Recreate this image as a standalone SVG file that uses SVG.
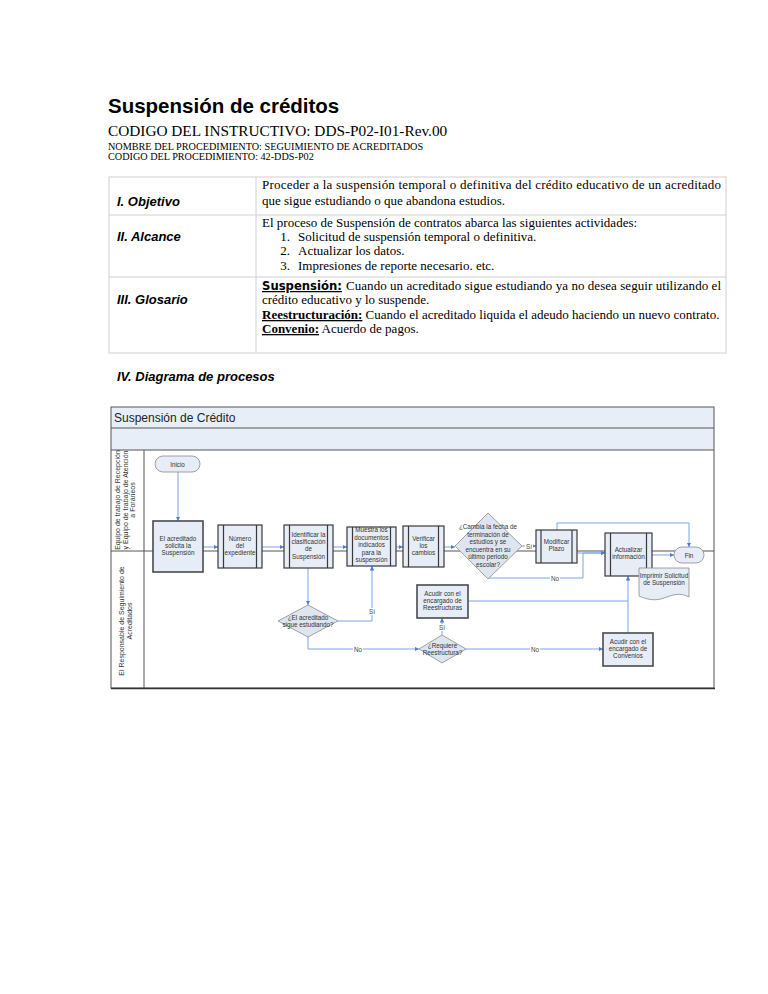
<svg xmlns="http://www.w3.org/2000/svg" width="768" height="994" viewBox="0 0 768 994">
<style>
.h1{font-family:"Liberation Sans",Arial,sans-serif;font-weight:bold;font-size:20.5px;fill:#000}
.tm{font-family:"Liberation Serif","Times New Roman",serif;fill:#000}
.lab{font-family:"Liberation Sans",Arial,sans-serif;font-weight:bold;font-style:italic;font-size:13px;fill:#000}
.cell{fill:none;stroke:#d0d0d0;stroke-width:1}
.box{fill:#e7edf6;stroke:#4a4a4a;stroke-width:1.6}
.pp{fill:#e7edf6;stroke:#3a3a3a;stroke-width:1.2}
.ppl{stroke:#3a3a3a;stroke-width:1.2}
.term{fill:#e7edf6;stroke:#8a8a8a;stroke-width:0.8}
.dia{fill:#dfe5ee;stroke:#8a8a8a;stroke-width:0.8}
.conn{fill:none;stroke:#7aa5e3;stroke-width:1}
.arr{marker-end:url(#ah)}
.lane{fill:none;stroke:#555;stroke-width:1}
.nt{font-family:"Liberation Sans",Arial,sans-serif;font-size:6.3px;fill:#333;text-anchor:middle}
.cl{font-family:"Liberation Sans",Arial,sans-serif;font-size:6.3px;fill:#444;text-anchor:middle}
.ln{font-family:"Liberation Sans",Arial,sans-serif;font-size:7px;fill:#333;text-anchor:middle}
</style>
<defs>
<marker id="ah" viewBox="0 0 6 6" markerWidth="4.5" markerHeight="4.5" refX="6" refY="3" orient="auto" markerUnits="userSpaceOnUse">
<path d="M0,0 L6,3 L0,6 z" fill="#4a7fd0"/>
</marker>
</defs>
<rect width="768" height="994" fill="#fff"/>

<g id="header">
<text class="h1" x="108" y="113">Suspensión de créditos</text>
<text class="tm" x="108" y="136" font-size="15.3">CODIGO DEL INSTRUCTIVO: DDS-P02-I01-Rev.00</text>
<text class="tm" x="108" y="150" font-size="10.2">NOMBRE DEL PROCEDIMIENTO: SEGUIMIENTO DE ACREDITADOS</text>
<text class="tm" x="108" y="160" font-size="10.2">CODIGO DEL PROCEDIMIENTO: 42-DDS-P02</text>
</g>

<g id="table">
<rect class="cell" x="109" y="177" width="617" height="176"/>
<line class="cell" x1="256" y1="177" x2="256" y2="353"/>
<line class="cell" x1="109" y1="215" x2="726" y2="215"/>
<line class="cell" x1="109" y1="277" x2="726" y2="277"/>
<text class="lab" x="117" y="206">I. Objetivo</text>
<text class="lab" x="117" y="241">II. Alcance</text>
<text class="lab" x="117" y="304">III. Glosario</text>
<text class="tm" font-size="13" x="262" y="189" textLength="459" lengthAdjust="spacing">Proceder a la suspensión temporal o definitiva del crédito educativo de un acreditado</text>
<text class="tm" font-size="13" x="262" y="205">que sigue estudiando o que abandona estudios.</text>
<text class="tm" font-size="13" x="262" y="227">El proceso de Suspensión de contratos  abarca las siguientes actividades:</text>
<text class="tm" font-size="13" x="290" y="241" text-anchor="end">1.</text>
<text class="tm" font-size="13" x="298" y="241">Solicitud de suspensión temporal o definitiva.</text>
<text class="tm" font-size="13" x="290" y="255" text-anchor="end">2.</text>
<text class="tm" font-size="13" x="298" y="255">Actualizar los datos.</text>
<text class="tm" font-size="13" x="290" y="270" text-anchor="end">3.</text>
<text class="tm" font-size="13" x="298" y="270">Impresiones de reporte necesario. etc.</text>
<text x="262" y="290" font-family="'DejaVu Sans',Verdana,sans-serif" font-weight="bold" font-size="12.5" text-decoration="underline" textLength="80" lengthAdjust="spacingAndGlyphs">Suspensión:</text>
<text class="tm" font-size="13" x="346" y="290" textLength="375" lengthAdjust="spacing">Cuando un acreditado  sigue estudiando ya no desea seguir utilizando el</text>
<text class="tm" font-size="13" x="262" y="304">crédito educativo y lo suspende.</text>
<text class="tm" font-size="13" x="262" y="319"><tspan font-weight="bold" text-decoration="underline">Reestructuración:</tspan> Cuando el acreditado liquida  el adeudo haciendo un nuevo contrato.</text>
<text class="tm" font-size="13" x="262" y="333"><tspan font-weight="bold" text-decoration="underline">Convenio:</tspan> Acuerdo de pagos.</text>
</g>

<text class="lab" x="117" y="381" font-size="14.5">IV. Diagrama de procesos</text>

<g id="pool">
<rect x="111" y="407" width="603" height="21" fill="#e8eef7"/>
<rect x="111" y="428" width="603" height="22" fill="#e8eef7"/>
<rect class="lane" x="111" y="407" width="603" height="281"/>
<line class="lane" x1="111" y1="428" x2="714" y2="428"/>
<line class="lane" x1="111" y1="450" x2="714" y2="450"/>
<line class="lane" x1="144" y1="450" x2="144" y2="688"/>
<line class="lane" x1="111" y1="551" x2="714" y2="551"/>
<line stroke="#333" stroke-width="1.5" x1="111" y1="688.5" x2="715" y2="688.5"/>
<text x="114" y="422" font-family="'Liberation Sans',Arial,sans-serif" font-size="12" fill="#222">Suspensión de Crédito</text>
<text class="ln" transform="translate(127,500) rotate(-90)"><tspan x="0" y="-7">Equipo de trabajo de Recepción</tspan><tspan x="0" y="0.5">y Equipo de trabajo de Atención</tspan><tspan x="0" y="8">a Foráneos</tspan></text>
<text class="ln" transform="translate(127,621) rotate(-90)"><tspan x="0" y="-3">El Responsable de Seguimiento de</tspan><tspan x="0" y="5">Acreditados</tspan></text>
</g>

<g id="connectors">
<path class="conn arr" d="M178,472 V521"/>
<path class="conn arr" d="M203,547 H218"/>
<path class="conn arr" d="M262,547 H284"/>
<path class="conn arr" d="M333,547 H347"/>
<path class="conn arr" d="M396,547 H403"/>
<path class="conn arr" d="M444,547 H455"/>
<path class="conn arr" d="M522,546 H536"/>
<path class="conn arr" d="M557,530 V523 H689 V547"/>
<path class="conn arr" d="M577,553 H605"/>
<path class="conn arr" d="M488,578 H583 V553 H605"/>
<path class="conn arr" d="M652,555 H674"/>
<path class="conn arr" d="M308,568 V605"/>
<path class="conn arr" d="M338,621 H372 V566"/>
<path class="conn arr" d="M308,637 V649 H419"/>
<path class="conn arr" d="M442,635 V618"/>
<path class="conn arr" d="M466,649 H603"/>
<path class="conn arr" d="M628,633 V576"/>
<path class="conn" d="M468,601 H628"/>
<rect x="525" y="543" width="8" height="7" fill="#fff"/>
<text class="cl" x="529" y="548.5">Sí</text>
<rect x="550" y="575" width="10" height="7" fill="#fff"/>
<text class="cl" x="555" y="580.5">No</text>
<rect x="368" y="608" width="8" height="7" fill="#fff"/>
<text class="cl" x="372" y="613.5">Sí</text>
<rect x="353" y="646" width="10" height="7" fill="#fff"/>
<text class="cl" x="358" y="651.5">No</text>
<rect x="438" y="624" width="8" height="7" fill="#fff"/>
<text class="cl" x="442" y="629.5">Sí</text>
<rect x="530" y="646" width="10" height="7" fill="#fff"/>
<text class="cl" x="535" y="651.5">No</text>
</g>

<g id="inicio">
<rect class="term" x="155" y="456" width="45" height="16" rx="8"/>
<text class="nt" x="177.5" y="466.5">Inicio</text>
</g>
<g id="solicita">
<rect class="box" x="153" y="521" width="50" height="51"/>
<text class="nt"><tspan x="178" y="541">El acreditado</tspan><tspan x="178" y="548">solicita la</tspan><tspan x="178" y="555">Suspensión</tspan></text>
</g>
<g id="expediente">
<rect class="pp" x="218" y="525" width="44" height="43"/>
<line class="ppl" x1="223.5" y1="525" x2="223.5" y2="568"/><line class="ppl" x1="256.5" y1="525" x2="256.5" y2="568"/>
<text class="nt"><tspan x="240" y="541">Número</tspan><tspan x="240" y="548">del</tspan><tspan x="240" y="555">expediente</tspan></text>
</g>
<g id="identificar">
<rect class="pp" x="284" y="525" width="49" height="43"/>
<line class="ppl" x1="289.5" y1="525" x2="289.5" y2="568"/><line class="ppl" x1="327.5" y1="525" x2="327.5" y2="568"/>
<text class="nt"><tspan x="308.5" y="537">Identificar la</tspan><tspan x="308.5" y="544">clasificación</tspan><tspan x="308.5" y="551">de</tspan><tspan x="308.5" y="558.5">Suspensión</tspan></text>
</g>
<g id="muestra">
<rect class="pp" x="347" y="527" width="49" height="39"/>
<line class="ppl" x1="352.5" y1="527" x2="352.5" y2="566"/><line class="ppl" x1="390.5" y1="527" x2="390.5" y2="566"/>
<text class="nt"><tspan x="371.5" y="532">Muestra los</tspan><tspan x="371.5" y="539.5">documentos</tspan><tspan x="371.5" y="547">indicados</tspan><tspan x="371.5" y="554.5">para la</tspan><tspan x="371.5" y="562">suspensión</tspan></text>
</g>
<g id="verificar">
<rect class="pp" x="403" y="526" width="41" height="41"/>
<line class="ppl" x1="408.5" y1="526" x2="408.5" y2="567"/><line class="ppl" x1="438.5" y1="526" x2="438.5" y2="567"/>
<text class="nt"><tspan x="423.5" y="541">Verificar</tspan><tspan x="423.5" y="548">los</tspan><tspan x="423.5" y="555">cambios</tspan></text>
</g>
<g id="cambia">
<polygon class="dia" points="488,513 522,546 488,579 455,546"/>
<text class="nt"><tspan x="488" y="529">¿Cambia la fecha de</tspan><tspan x="488" y="536.5">terminación de</tspan><tspan x="488" y="544">estudios y se</tspan><tspan x="488" y="551.5">encuentra en su</tspan><tspan x="488" y="559">último periodo</tspan><tspan x="488" y="566.5">escolar?</tspan></text>
</g>
<g id="modificar">
<rect class="pp" x="536" y="530" width="41" height="33"/>
<line class="ppl" x1="541" y1="530" x2="541" y2="563"/><line class="ppl" x1="572" y1="530" x2="572" y2="563"/>
<text class="nt"><tspan x="556.5" y="544">Modificar</tspan><tspan x="556.5" y="551">Plazo</tspan></text>
</g>
<g id="actualizar">
<rect class="pp" x="605" y="533" width="47" height="43"/>
<line class="ppl" x1="610.5" y1="533" x2="610.5" y2="576"/><line class="ppl" x1="646.5" y1="533" x2="646.5" y2="576"/>
<text class="nt"><tspan x="628.5" y="552">Actualizar</tspan><tspan x="628.5" y="559">información</tspan></text>
</g>
<g id="imprimir">
<path class="term" d="M639,568 H689 V597 C680,592 672,595 664,598 C656,601 648,600 639,596 Z"/>
<text class="nt"><tspan x="664" y="578">Imprimir Solicitud</tspan><tspan x="664" y="585">de Suspensión</tspan></text>
</g>
<g id="fin">
<rect class="term" x="674" y="547" width="30" height="16" rx="8"/>
<text class="nt" x="689" y="557.5">Fin</text>
</g>
<g id="sigue">
<polygon class="dia" points="308,605 338,621 308,637 278,621"/>
<text class="nt"><tspan x="308" y="620">¿El acreditado</tspan><tspan x="308" y="627">sigue estudiando?</tspan></text>
</g>
<g id="reestructuras">
<rect class="box" x="417" y="585" width="51" height="33"/>
<text class="nt"><tspan x="442.5" y="596">Acudir con el</tspan><tspan x="442.5" y="603">encargado de</tspan><tspan x="442.5" y="610">Reestructuras</tspan></text>
</g>
<g id="requiere">
<polygon class="dia" points="442,635 466,649 442,663 419,649"/>
<text class="nt"><tspan x="442.5" y="648">¿Requiere</tspan><tspan x="442.5" y="655">Reestructura?</tspan></text>
</g>
<g id="convenios">
<rect class="box" x="603" y="633" width="50" height="33"/>
<text class="nt"><tspan x="628" y="644">Acudir con el</tspan><tspan x="628" y="651">encargado de</tspan><tspan x="628" y="658">Convenios</tspan></text>
</g>
</svg>
